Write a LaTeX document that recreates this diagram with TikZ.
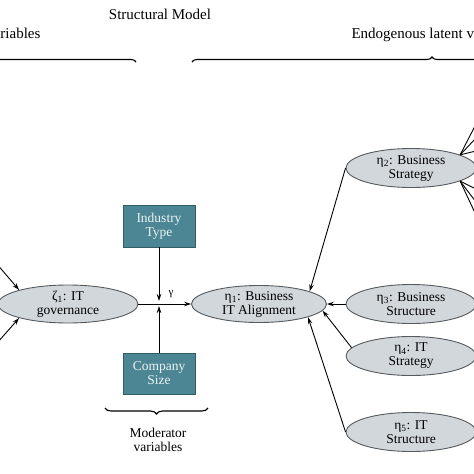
\documentclass[tikz,border=0pt]{standalone}
\usepackage{fontspec}
\setmainfont{Liberation Serif}
\usetikzlibrary{arrows.meta,shapes.geometric,decorations.pathreplacing}
\definecolor{latentfill}{RGB}{210,215,220}
\definecolor{latentline}{RGB}{85,90,95}
\definecolor{boxfill}{RGB}{76,134,148}
\definecolor{boxline}{RGB}{48,92,104}
\definecolor{boxtext}{RGB}{235,242,244}

\begin{document}
\begin{tikzpicture}[x=1pt,y=-1pt,
    latent/.style={shape=ellipse, draw=latentline, fill=latentfill, line width=0.9pt, inner sep=0pt,
        minimum width=130pt, minimum height=39pt, align=center, font=\fontsize{13.5}{14}\selectfont},
    moderator/.style={shape=rectangle, draw=boxline, fill=boxfill, text=boxtext, line width=0.9pt,
        minimum width=72pt, minimum height=42pt, align=center, font=\fontsize{13.5}{14}\selectfont},
    heading/.style={font=\fontsize{15}{17}\selectfont},
    curly/.style={decorate, line width=1.1pt, decoration={brace, amplitude=#1}},
    >={Stealth[length=7pt,width=4.5pt]}]
    \useasboundingbox (0,0) rectangle (474,474);
    \clip (0,0) rectangle (474,474);

    \node[heading] (title) at (160,14) {Structural Model};
    \node[heading, anchor=east] (exo) at (44,35) {Exogenous latent variables};
    \node[heading, anchor=west] (endo) at (348,35) {Endogenous latent variables};

    \node[latent, minimum width=140pt, minimum height=38pt] (Z1) at (68,304) {ζ\textsubscript{1}: IT\\governance};
    \node[latent, minimum width=135pt, minimum height=37pt] (E1) at (259,304) {η\textsubscript{1}: Business\\IT Alignment};
    \node[latent] (E2) at (411,168) {η\textsubscript{2}: Business\\Strategy};
    \node[latent] (E3) at (411,304) {η\textsubscript{3}: Business\\Structure};
    \node[latent] (E4) at (411,356) {η\textsubscript{4}: IT\\Strategy};
    \node[latent] (E5) at (411,432) {η\textsubscript{5}: IT\\Structure};

    \node[moderator] (IT) at (159,226) {Industry\\Type};
    \node[moderator, minimum height=41pt] (CS) at (159,373.5) {Company\\Size};
    \node[font=\fontsize{13.5}{14}\selectfont, align=center] (mod) at (158,440) {Moderator\\variables};

    \coordinate (X) at (159,304);
    \coordinate (x1) at (-10,256);
    \coordinate (x2) at (-10,351);
    \foreach \n/\y in {1/124,2/138,3/151} \coordinate (up\n) at (476,\y);
    \foreach \n/\y in {1/189,2/202,3/215} \coordinate (dn\n) at (476,\y);

    \path [->, line width=0.9pt](x1) edge  (Z1.164);
    \path [->, line width=0.9pt](x2) edge  (Z1.196);
    \path [->, line width=0.9pt](Z1) edge  (E1);
    \path [->, line width=0.9pt](IT) edge[shorten >=3pt]  (X);
    \path [->, line width=0.9pt](CS) edge[shorten >=2pt]  (X);
    \node[font=\fontsize{11}{12}\selectfont] (gamma) at (171,294) {γ};

    \path [->, line width=0.9pt](E2.west) edge  (E1.14);
    \path [->, line width=0.9pt](E3) edge  (E1);
    \path [->, line width=0.9pt](E4.172) edge  (E1.-6);
    \path [->, line width=0.9pt](E5.west) edge  (E1.-15);

    \foreach \n in {1,2,3} \draw[line width=0.9pt] (E2.15) -- (up\n);
    \foreach \n in {1,2,3} \draw[line width=0.9pt] (E2.-15) -- (dn\n);

    \draw[curly=5pt] (-218,62) -- (136,62);
    \draw[curly=5pt] (192,62) -- (672,62);
    \draw[curly=6pt] (208,408) -- (105,408);

\end{tikzpicture}
\end{document}
